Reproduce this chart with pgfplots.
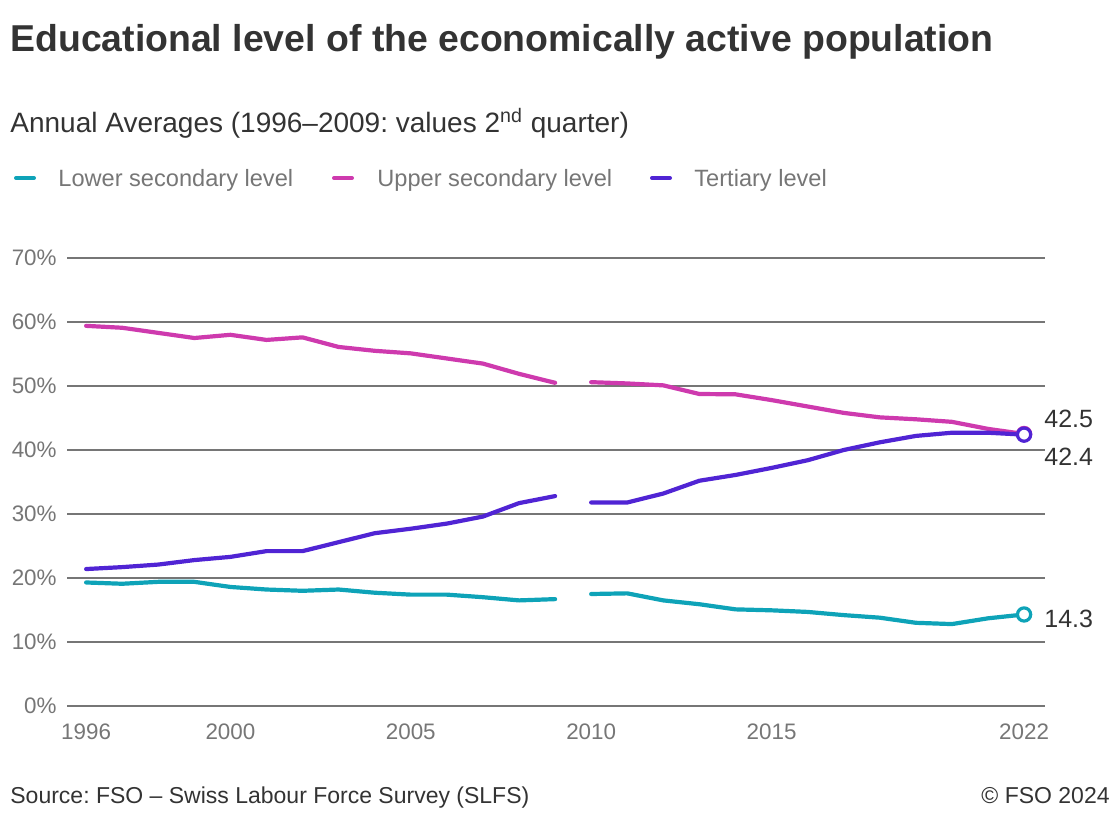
\documentclass[border=0pt]{standalone}
\usepackage{pgfplots}
\pgfplotsset{compat=1.18}
\usepackage{pgfplotstable}
\usepackage{fontspec}
\setmainfont{Liberation Sans}
\frenchspacing
\definecolor{lowc}{HTML}{0EA3B8}
\definecolor{upc}{HTML}{CE3AAE}
\definecolor{terc}{HTML}{5024D4}
\definecolor{gridc}{HTML}{767676}
\definecolor{labc}{HTML}{767676}
\definecolor{darkc}{HTML}{333333}

\pgfplotstableread{
year val
1996 19.3
1997 19.1
1998 19.4
1999 19.4
2000 18.6
2001 18.2
2002 18.0
2003 18.2
2004 17.7
2005 17.4
2006 17.4
2007 17.0
2008 16.5
2009 16.7
2009.5 nan
2010 17.5
2011 17.6
2012 16.5
2013 15.9
2014 15.1
2015 14.95
2016 14.7
2017 14.2
2018 13.8
2019 13.0
2020 12.8
2021 13.7
2022 14.3
}\lowtab

\pgfplotstableread{
year val
1996 59.4
1997 59.1
1998 58.3
1999 57.5
2000 58.0
2001 57.2
2002 57.6
2003 56.1
2004 55.5
2005 55.1
2006 54.3
2007 53.5
2008 51.9
2009 50.5
2009.5 nan
2010 50.6
2011 50.4
2012 50.1
2013 48.75
2014 48.7
2015 47.8
2016 46.8
2017 45.8
2018 45.1
2019 44.8
2020 44.4
2021 43.3
2022 42.5
}\uptab

\pgfplotstableread{
year val
1996 21.4
1997 21.7
1998 22.1
1999 22.8
2000 23.3
2001 24.2
2002 24.2
2003 25.6
2004 27.0
2005 27.7
2006 28.5
2007 29.6
2008 31.7
2009 32.8
2009.5 nan
2010 31.8
2011 31.8
2012 33.2
2013 35.2
2014 36.1
2015 37.2
2016 38.4
2017 40.0
2018 41.2
2019 42.2
2020 42.7
2021 42.7
2022 42.4
}\tertab

\begin{document}
\begin{tikzpicture}[x=1pt,y=1pt]
\useasboundingbox (0,0) rectangle (560,410);
% title block
\node[anchor=base west, inner sep=0pt, text=darkc, font=\fontsize{18.7}{22}\selectfont\bfseries] at (5,384) {Educational level of the economically active population};
\node[anchor=base west, inner sep=0pt, text=darkc, font=\fontsize{14}{17}\selectfont] at (5,343.5) {Annual Averages (1996–2009: values 2\textsuperscript{nd} quarter)};
% legend
\draw[lowc, line width=2pt, line cap=round] (8,321) -- (17,321);
\node[anchor=base west, inner sep=0pt, text=labc, font=\fontsize{11.8}{14}\selectfont] at (29,316.5) {Lower secondary level};
\draw[upc, line width=2pt, line cap=round] (167,321) -- (176,321);
\node[anchor=base west, inner sep=0pt, text=labc, font=\fontsize{11.8}{14}\selectfont] at (188.5,316.5) {Upper secondary level};
\draw[terc, line width=2pt, line cap=round] (326,321) -- (335,321);
\node[anchor=base west, inner sep=0pt, text=labc, font=\fontsize{11.8}{14}\selectfont] at (347,316.5) {Tertiary level};
% source
\node[anchor=base west, inner sep=0pt, text=darkc, font=\fontsize{11.5}{14}\selectfont] at (5,8.5) {Source: FSO – Swiss Labour Force Survey (SLFS)};
\node[anchor=base east, inner sep=0pt, text=darkc, font=\fontsize{11.5}{14}\selectfont] at (555,8.5) {© FSO 2024};
\begin{axis}[
  at={(33.5pt,57pt)}, anchor=south west,
  scale only axis, width=489pt, height=224pt,
  xmin=1995.47, xmax=2022.58, ymin=0, ymax=70,
  clip=false,
  axis line style={draw=none},
  tick style={draw=none},
  ymajorgrids, grid style={gridc, line width=0.9pt},
  ytick={0,10,...,70},
  yticklabel={\pgfmathprintnumber{\tick}\%},
  xtick={1996,2000,2005,2010,2015,2022},
  /pgf/number format/assume math mode=true,
  /pgf/number format/1000 sep={},
  tick label style={font=\fontsize{11.2}{13}\selectfont, text=labc},
  yticklabel style={inner sep=0pt, anchor=east, xshift=-5pt},
  xticklabel style={inner sep=0pt, anchor=north, yshift=-8.5pt},
  unbounded coords=jump,
  every axis plot/.append style={line width=2.1pt, line join=round, line cap=round},
]
\addplot[lowc, no marks] table[x=year,y=val] {\lowtab};
\addplot[upc, no marks] table[x=year,y=val] {\uptab};
\addplot[terc, no marks] table[x=year,y=val] {\tertab};
\addplot[lowc, only marks, mark=*, mark size=3.3pt, mark options={fill=white, line width=1.6pt}] coordinates {(2022,14.3)};
\addplot[upc, only marks, mark=*, mark size=3.3pt, mark options={fill=white, line width=1.6pt}] coordinates {(2022,42.5)};
\addplot[terc, only marks, mark=*, mark size=3.3pt, mark options={fill=white, line width=1.6pt}] coordinates {(2022,42.4)};
\end{axis}
\node[anchor=base west, inner sep=0pt, text=darkc, font=\fontsize{12.5}{15}\selectfont] at (522,196) {42.5};
\node[anchor=base west, inner sep=0pt, text=darkc, font=\fontsize{12.5}{15}\selectfont] at (522,177) {42.4};
\node[anchor=base west, inner sep=0pt, text=darkc, font=\fontsize{12.5}{15}\selectfont] at (522,96) {14.3};
\end{tikzpicture}
\end{document}
